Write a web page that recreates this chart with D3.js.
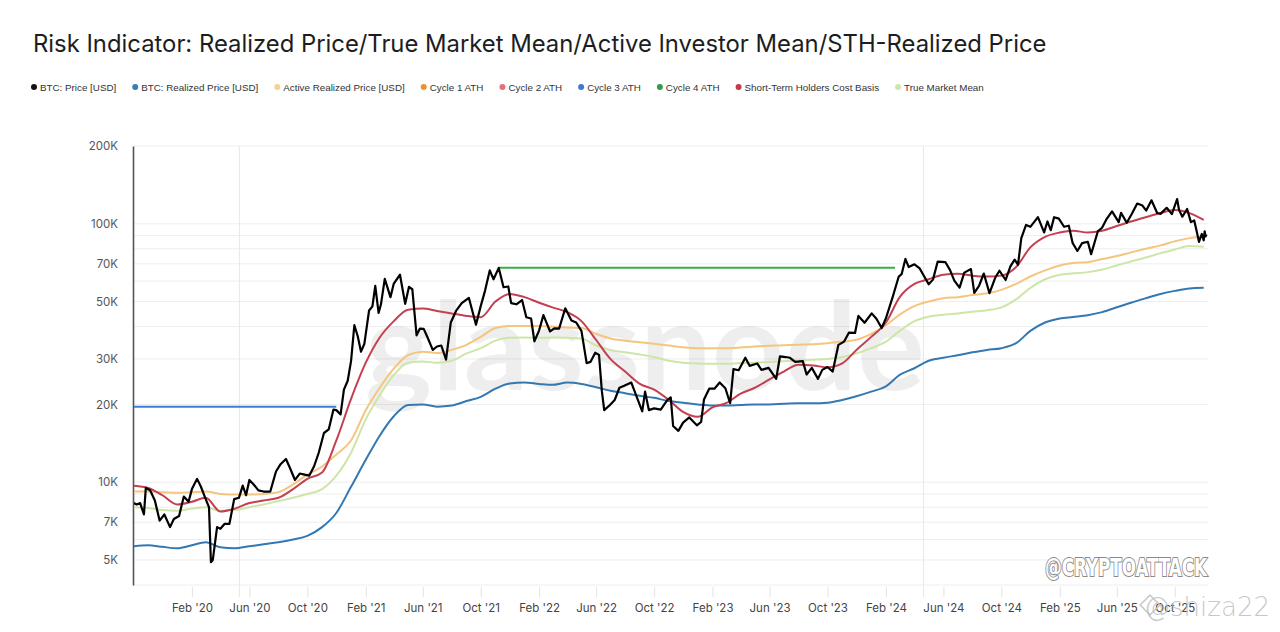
<!DOCTYPE html>
<html>
<head>
<meta charset="utf-8">
<script src="https://cdn.jsdelivr.net/npm/d3@7"></script>
<style>
  body { margin: 0; background: #fff; }
  svg { display: block; font-family: "Inter", "Liberation Sans", sans-serif; }
</style>
</head>
<body>
<svg id="chart" width="1280" height="632"></svg>
<script>
// ---- data (prices in thousand USD) ----

// monthly points for the smooth on-chain series
const months = [
  "2019-10","2019-11","2019-12",
  "2020-01","2020-02","2020-03","2020-04","2020-05","2020-06","2020-07","2020-08","2020-09","2020-10","2020-11","2020-12",
  "2021-01","2021-02","2021-03","2021-04","2021-05","2021-06","2021-07","2021-08","2021-09","2021-10","2021-11","2021-12",
  "2022-01","2022-02","2022-03","2022-04","2022-05","2022-06","2022-07","2022-08","2022-09","2022-10","2022-11","2022-12",
  "2023-01","2023-02","2023-03","2023-04","2023-05","2023-06","2023-07","2023-08","2023-09","2023-10","2023-11","2023-12",
  "2024-01","2024-02","2024-03","2024-04","2024-05","2024-06","2024-07","2024-08","2024-09","2024-10","2024-11","2024-12",
  "2025-01","2025-02","2025-03","2025-04","2025-05","2025-06","2025-07","2025-08","2025-09","2025-10","2025-11","2025-12"
];

const realizedPrice = [
  5.65, 5.7, 5.62,
  5.55, 5.7, 5.85, 5.6, 5.55, 5.65, 5.75, 5.85, 6.0, 6.2, 6.7, 7.6,
  9.6, 12.2, 15.0, 18.0, 19.9, 20.0, 19.6, 19.8, 20.6, 21.4, 23.0, 24.1,
  24.3, 24.0, 23.8, 24.3, 24.0, 23.3, 22.6, 22.1, 21.6, 21.2, 20.6, 20.3,
  20.0, 19.8, 19.8, 19.9, 20.0, 20.0, 20.1, 20.2, 20.2, 20.3, 20.8, 21.5,
  22.4, 23.5, 26.0, 27.6, 29.5, 30.3, 31.0, 31.8, 32.5, 33.0, 34.5, 38.5,
  41.5, 43.0, 43.6, 44.3, 45.5, 47.5, 49.5, 51.5, 53.5, 55.0, 56.2, 56.5
];

const activeRealizedPrice = [
  9.2, 9.2, 9.15,
  9.1, 9.15, 9.2, 9.0, 8.95, 8.95, 9.0, 9.15, 9.8, 10.7, 11.5, 12.8,
  14.5, 19.0, 23.0, 27.5, 31.0, 32.0, 31.6, 32.5, 34.0, 36.5, 39.5, 40.2,
  40.2, 40.2, 40.0, 39.7, 39.5, 37.5, 36.0, 35.3, 34.8, 34.3, 33.8, 33.3,
  33.0, 33.0, 33.0, 33.2, 33.5, 33.7, 33.9, 34.0, 34.2, 34.5, 35.0, 35.6,
  37.5, 40.5, 44.5, 48.0, 50.0, 51.5, 52.0, 53.0, 53.8, 55.5, 58.5, 62.5,
  66.0, 69.0, 70.5, 71.0, 73.0, 75.0, 77.5, 80.0, 82.5, 85.5, 88.0, 89.0
];

const sthCostBasis = [
  9.7, 9.5, 8.9,
  8.2, 8.4, 8.7, 7.7, 7.9, 8.3, 8.5, 8.7, 9.4, 10.3, 10.9, 14.5,
  21.0, 29.0, 36.0, 42.0, 46.5, 47.0, 46.0, 45.0, 44.0, 43.5, 50.0, 53.5,
  52.0, 49.5, 47.5, 45.5, 42.0, 35.5, 30.0, 26.8, 24.0, 22.8, 20.8, 18.7,
  17.9, 19.5, 20.2, 22.0, 23.2, 25.0, 26.8, 28.5, 28.3, 27.8, 28.8, 32.5,
  36.5, 41.5, 52.0, 58.5, 61.0, 63.5, 64.0, 63.0, 62.5, 63.0, 68.0, 81.0,
  89.0, 92.5, 94.0, 92.5, 94.0, 98.0, 102.0, 106.0, 110.0, 113.0, 110.0, 103.5
];

const trueMarketMean = [
  8.0, 7.95, 7.8,
  7.75, 7.9, 8.0, 7.75, 7.8, 8.0, 8.2, 8.45, 8.7, 9.0, 9.4, 10.6,
  13.0, 17.5, 21.5, 26.0, 29.0, 29.3, 29.0, 29.5, 31.5, 33.0, 35.3, 36.2,
  36.3, 36.2, 36.3, 36.2, 36.0, 33.8, 32.5, 31.8, 31.2, 30.5, 29.5, 29.0,
  28.8, 28.7, 28.7, 28.9, 29.0, 29.2, 29.4, 29.6, 29.8, 30.0, 30.5, 31.5,
  33.0, 35.0, 38.5, 42.0, 43.7, 44.5, 45.0, 45.7, 46.3, 47.5, 51.0, 56.5,
  61.0, 63.5, 64.3, 65.0, 66.5, 69.0, 71.5, 74.0, 77.0, 79.5, 82.0, 81.5
];

// BTC price, irregular dates
const priceDates = [
  "2019-10-01","2019-10-08","2019-10-15","2019-10-23","2019-10-27","2019-11-05","2019-11-15","2019-11-25","2019-12-05","2019-12-17","2019-12-25",
  "2020-01-05","2020-01-15","2020-01-25","2020-02-01","2020-02-12","2020-02-20","2020-03-01","2020-03-08","2020-03-12","2020-03-16","2020-03-25",
  "2020-04-01","2020-04-10","2020-04-20","2020-04-30","2020-05-10","2020-05-18","2020-05-25","2020-06-01","2020-06-10","2020-06-20",
  "2020-07-01","2020-07-15","2020-07-27","2020-08-05","2020-08-17","2020-08-25","2020-09-05","2020-09-15","2020-09-25",
  "2020-10-05","2020-10-15","2020-10-25","2020-11-05","2020-11-15","2020-11-25","2020-12-01","2020-12-10","2020-12-17","2020-12-25",
  "2021-01-01","2021-01-08","2021-01-15","2021-01-22","2021-01-29","2021-02-08","2021-02-15","2021-02-21","2021-02-28",
  "2021-03-05","2021-03-13","2021-03-25","2021-04-01","2021-04-14","2021-04-25","2021-05-03","2021-05-10","2021-05-19","2021-05-26",
  "2021-06-03","2021-06-10","2021-06-22","2021-07-01","2021-07-10","2021-07-20","2021-07-30","2021-08-10","2021-08-22","2021-09-06","2021-09-21",
  "2021-10-01","2021-10-10","2021-10-20","2021-10-28","2021-11-08","2021-11-18","2021-11-28","2021-12-04","2021-12-15","2021-12-27",
  "2022-01-05","2022-01-15","2022-01-22","2022-02-01","2022-02-10","2022-02-24","2022-03-05","2022-03-15","2022-03-28","2022-04-10","2022-04-20",
  "2022-05-01","2022-05-12","2022-05-20","2022-05-30","2022-06-07","2022-06-13","2022-06-18","2022-06-30","2022-07-10","2022-07-20","2022-07-30",
  "2022-08-14","2022-08-25","2022-09-06","2022-09-12","2022-09-20","2022-10-01","2022-10-15","2022-10-29","2022-11-05","2022-11-10","2022-11-21",
  "2022-12-01","2022-12-14","2022-12-30",
  "2023-01-08","2023-01-14","2023-01-25","2023-02-05","2023-02-16","2023-02-28","2023-03-10","2023-03-17","2023-03-28","2023-04-11","2023-04-20",
  "2023-05-06","2023-05-15","2023-05-30","2023-06-15","2023-06-23","2023-07-05","2023-07-14","2023-07-25","2023-08-10","2023-08-18","2023-08-29",
  "2023-09-11","2023-09-20","2023-10-01","2023-10-12","2023-10-24","2023-11-05","2023-11-15","2023-11-28","2023-12-05","2023-12-18",
  "2024-01-02","2024-01-12","2024-01-23","2024-02-01","2024-02-15","2024-02-28","2024-03-05","2024-03-13","2024-03-20","2024-04-01","2024-04-12","2024-04-19",
  "2024-05-01","2024-05-10","2024-05-20","2024-06-05","2024-06-15","2024-06-24","2024-07-05","2024-07-15","2024-07-29","2024-08-05","2024-08-15","2024-08-25",
  "2024-09-06","2024-09-18","2024-09-27","2024-10-10","2024-10-20","2024-10-29","2024-11-05","2024-11-12","2024-11-22","2024-12-01","2024-12-08","2024-12-17","2024-12-30",
  "2025-01-06","2025-01-13","2025-01-20","2025-01-30","2025-02-10","2025-02-20","2025-02-28","2025-03-10","2025-03-20","2025-04-01","2025-04-08","2025-04-22",
  "2025-05-01","2025-05-10","2025-05-22","2025-06-05","2025-06-10","2025-06-22","2025-07-03","2025-07-14","2025-07-25","2025-08-02","2025-08-13","2025-08-25",
  "2025-09-01","2025-09-14","2025-09-25","2025-10-06","2025-10-10","2025-10-17","2025-10-27","2025-11-04","2025-11-11","2025-11-17","2025-11-21","2025-11-27",
  "2025-12-01","2025-12-03","2025-12-05","2025-12-07"
];
const priceValues = [
  8.3, 8.2, 8.3, 7.5, 9.5, 9.3, 8.5, 7.1, 7.5, 6.7, 7.2,
  7.4, 8.8, 8.4, 9.4, 10.3, 9.6, 8.6, 8.0, 4.9, 5.0, 6.7,
  6.6, 6.9, 6.9, 8.6, 8.7, 9.7, 8.9, 10.2, 9.8, 9.3,
  9.2, 9.2, 11.0, 11.7, 12.3, 11.4, 10.2, 10.8, 10.7,
  10.6, 11.5, 13.0, 15.5, 16.0, 19.1, 19.0, 18.3, 22.8, 24.7,
  29.4, 40.5, 36.8, 32.0, 34.3, 46.2, 47.9, 57.5, 45.2,
  48.8, 61.2, 52.0, 58.7, 63.5, 49.0, 57.0, 55.8, 37.0, 39.3,
  39.2, 36.7, 32.5, 33.5, 33.8, 29.8, 41.5, 46.0, 49.3, 51.7, 40.7,
  48.0, 55.0, 66.0, 61.0, 67.5, 56.8, 57.2, 49.3, 48.8, 50.7,
  43.5, 43.0, 35.1, 38.7, 44.3, 38.3, 39.4, 39.3, 47.1, 42.2, 41.5,
  38.5, 28.9, 29.2, 31.7, 31.1, 22.5, 19.0, 19.9, 20.8, 23.2, 23.6,
  24.3, 21.5, 18.8, 22.4, 19.0, 19.3, 19.1, 20.8, 21.3, 16.5, 15.8,
  17.0, 17.8, 16.6,
  17.1, 20.9, 23.0, 23.0, 24.3, 23.1, 20.2, 27.4, 27.1, 30.3, 28.2,
  28.8, 27.2, 27.7, 25.1, 30.7, 30.5, 30.3, 29.2, 29.4, 26.1, 27.7,
  25.1, 27.2, 27.9, 26.8, 34.0, 35.0, 37.9, 37.8, 44.0, 41.4,
  45.0, 42.9, 39.5, 43.1, 51.9, 62.5, 63.8, 73.1, 68.0, 69.7, 67.2, 63.8,
  58.3, 60.8, 71.4, 71.1, 66.2, 60.3, 56.6, 64.7, 66.8, 54.0, 57.5, 64.2,
  53.9, 61.8, 65.8, 60.6, 68.4, 72.7, 69.4, 88.0, 99.0, 97.3, 101.0, 106.1, 92.6,
  102.1, 94.5, 106.0, 104.7, 97.4, 98.3, 84.3, 78.5, 84.2, 85.2, 76.3, 93.4,
  96.5, 104.0, 111.7, 101.5, 110.2, 100.9, 109.6, 119.8, 117.6, 112.5, 123.3, 110.1,
  109.2, 115.3, 109.0, 124.7, 113.2, 106.5, 114.1, 101.5, 103.0, 92.2, 85.1, 91.3,
  86.3, 93.5, 89.4, 91.0
];

// previous-cycle all-time highs shown as flat lines (start, end, level)
const cycle3Ath = { from: "2019-10-01", to: "2020-12-01", level: 19.6 };
const cycle4Ath = { from: "2021-11-08", to: "2024-02-20", level: 67.6 };

// halving days, drawn as faint vertical lines
const halvings = ["2020-05-11", "2024-04-20"];

// axis ticks
const xTicks = [
  "2020-02-01","2020-06-01","2020-10-01","2021-02-01","2021-06-01","2021-10-01",
  "2022-02-01","2022-06-01","2022-10-01","2023-02-01","2023-06-01","2023-10-01",
  "2024-02-01","2024-06-01","2024-10-01","2025-02-01","2025-06-01","2025-10-01"
];
const yTicks = [5, 7, 10, 20, 30, 50, 70, 100, 200];
const yGrid = [4, 5, 6, 7, 8, 9, 10, 20, 30, 40, 50, 60, 70, 80, 90, 100, 200];

const legendItems = [
  { name: "BTC: Price [USD]", color: "#111111" },
  { name: "BTC: Realized Price [USD]", color: "#3a7db8" },
  { name: "Active Realized Price [USD]", color: "#f4d196" },
  { name: "Cycle 1 ATH", color: "#e8942e" },
  { name: "Cycle 2 ATH", color: "#e26f79" },
  { name: "Cycle 3 ATH", color: "#3c78d4" },
  { name: "Cycle 4 ATH", color: "#2f9e46" },
  { name: "Short-Term Holders Cost Basis", color: "#c13b4e" },
  { name: "True Market Mean", color: "#cfe6ab" }
];

// ---- drawing ----
const svg = d3.select("#chart");
const parseDay = d3.timeParse("%Y-%m-%d");
const parseMonth = d3.timeParse("%Y-%m");

const plotLeft = 133, plotRight = 1208, plotTop = 146, plotBottom = 585;

const x = d3.scaleTime()
  .domain([parseDay("2019-09-30"), parseDay("2025-12-10")])
  .range([plotLeft, plotRight]);

const y = d3.scaleLog()
  .domain([4, 200])
  .range([plotBottom, plotTop]);

svg.append("rect").attr("width", 1280).attr("height", 632).attr("fill", "#fff");

// title
const title = svg.append("text")
  .attr("x", 33).attr("y", 52)
  .attr("fill", "#1d1d1f")
  .style("font-size", "22px")
  .text("Risk Indicator: Realized Price/True Market Mean/Active Investor Mean/STH-Realized Price");
// squeeze/stretch the font so the title spans like the original
const tw = title.node().getComputedTextLength();
title.style("font-size", (22 * 1014 / tw).toFixed(2) + "px");

// legend
let lx = 34;
legendItems.forEach(function(item) {
  const g = svg.append("g").attr("transform", "translate(" + lx + ",87)");
  g.append("circle").attr("cx", 0).attr("cy", 0).attr("r", 3).attr("fill", item.color);
  const t = g.append("text")
    .attr("x", 6).attr("y", 3.5)
    .attr("fill", "#333")
    .style("font-family", "'Liberation Sans', Arial, sans-serif")
    .style("font-size", "9.8px")
    .text(item.name);
  lx += 6 + t.node().getComputedTextLength() + 19;
});

// horizontal grid
svg.append("g")
  .selectAll("line")
  .data(yGrid)
  .join("line")
  .attr("x1", plotLeft).attr("x2", plotRight)
  .attr("y1", d => y(d)).attr("y2", d => y(d))
  .attr("stroke", "#eeeeee")
  .attr("stroke-width", 1);

// halving lines
svg.append("g")
  .selectAll("line")
  .data(halvings)
  .join("line")
  .attr("x1", d => x(parseDay(d))).attr("x2", d => x(parseDay(d)))
  .attr("y1", plotTop).attr("y2", 597)
  .attr("stroke", "#e8e8e8")
  .attr("stroke-width", 1);

// glassnode watermark
const wm = svg.append("text")
  .attr("x", 365).attr("y", 390)
  .attr("fill", "#000")
  .attr("fill-opacity", 0.065)
  .style("font-family", "Lato, 'Open Sans', sans-serif")
  .style("font-weight", "bold")
  .style("font-size", "122px")
  .text("glassnode");
wm.attr("textLength", 560).attr("lengthAdjust", "spacingAndGlyphs");

// x axis (ticks only)
const xAxis = svg.append("g")
  .attr("transform", "translate(0," + plotBottom + ")")
  .call(d3.axisBottom(x)
    .tickValues(xTicks.map(parseDay))
    .tickFormat(d3.timeFormat("%b '%y"))
    .tickSize(12)
    .tickPadding(7));
xAxis.select(".domain").remove();
xAxis.selectAll(".tick line").attr("stroke", "#e2e2e2").attr("y1", 2);
xAxis.selectAll(".tick text")
  .attr("fill", "#444")
  .style("font-size", "11.5px")
  .style("font-family", "Inter, 'Liberation Sans', sans-serif");

// y axis
const yAxis = svg.append("g")
  .attr("transform", "translate(" + plotLeft + ",0)")
  .call(d3.axisLeft(y)
    .tickValues(yTicks)
    .tickFormat(d => d + "K")
    .tickSize(0)
    .tickPadding(15));
yAxis.select(".domain").attr("stroke", "#555").attr("stroke-width", 1.6);
yAxis.selectAll(".tick text")
  .attr("fill", "#555")
  .style("font-size", "11.5px")
  .style("font-family", "Inter, 'Liberation Sans', sans-serif");

// clip to plot area
svg.append("clipPath").attr("id", "plot-clip")
  .append("rect")
  .attr("x", plotLeft + 1).attr("y", plotTop)
  .attr("width", plotRight - plotLeft).attr("height", plotBottom - plotTop);

const plot = svg.append("g").attr("clip-path", "url(#plot-clip)");

const monthDates = months.map(parseMonth);
const line = d3.line()
  .x(d => x(d[0]))
  .y(d => y(d[1]))
  .curve(d3.curveMonotoneX);

function drawSeries(values, color, width) {
  plot.append("path")
    .datum(monthDates.map((d, i) => [d, values[i]]))
    .attr("fill", "none")
    .attr("stroke", color)
    .attr("stroke-width", width)
    .attr("stroke-linejoin", "round")
    .attr("d", line);
}

drawSeries(realizedPrice, "#3478b3", 2);
drawSeries(trueMarketMean, "#cde6a6", 2);
drawSeries(activeRealizedPrice, "#f5c57e", 2);

// previous cycle ATH levels
[[cycle3Ath, "#3c7fd6"], [cycle4Ath, "#38ae4a"]].forEach(function(c) {
  const a = c[0];
  plot.append("line")
    .attr("x1", x(parseDay(a.from))).attr("x2", x(parseDay(a.to)))
    .attr("y1", y(a.level)).attr("y2", y(a.level))
    .attr("stroke", c[1])
    .attr("stroke-width", 2);
});

drawSeries(sthCostBasis, "#c43f50", 2);

// price on top
plot.append("path")
  .datum(priceDates.map((d, i) => [parseDay(d), priceValues[i]]))
  .attr("fill", "none")
  .attr("stroke", "#000")
  .attr("stroke-width", 2.2)
  .attr("stroke-linejoin", "round")
  .attr("d", d3.line().x(d => x(d[0])).y(d => y(d[1])));

// source watermarks on the picture
svg.append("text")
  .attr("x", 1045).attr("y", 576)
  .attr("textLength", 162)
  .attr("lengthAdjust", "spacingAndGlyphs")
  .attr("fill", "#fff")
  .attr("stroke", "#8a8a8a")
  .attr("stroke-width", 2)
  .attr("paint-order", "stroke")
  .style("font-family", "'Liberation Sans Narrow', 'DejaVu Sans Condensed', sans-serif")
  .style("font-weight", "bold")
  .style("font-size", "25px")
  .text("@CRYPTOATTACK");

svg.append("rect")
  .attr("x", -7).attr("y", -7).attr("width", 14).attr("height", 14)
  .attr("transform", "translate(1150,605) rotate(45)")
  .attr("fill", "none")
  .attr("stroke", "#c8c8c8")
  .attr("stroke-width", 1.5);

svg.append("text")
  .attr("x", 1270).attr("y", 616)
  .attr("text-anchor", "end")
  .attr("fill", "#bdbdbd")
  .attr("fill-opacity", 0.85)
  .style("font-family", "'DejaVu Sans', sans-serif")
  .style("font-weight", "300")
  .style("font-size", "26px")
  .text("@shiza22");
</script>
</body>
</html>
